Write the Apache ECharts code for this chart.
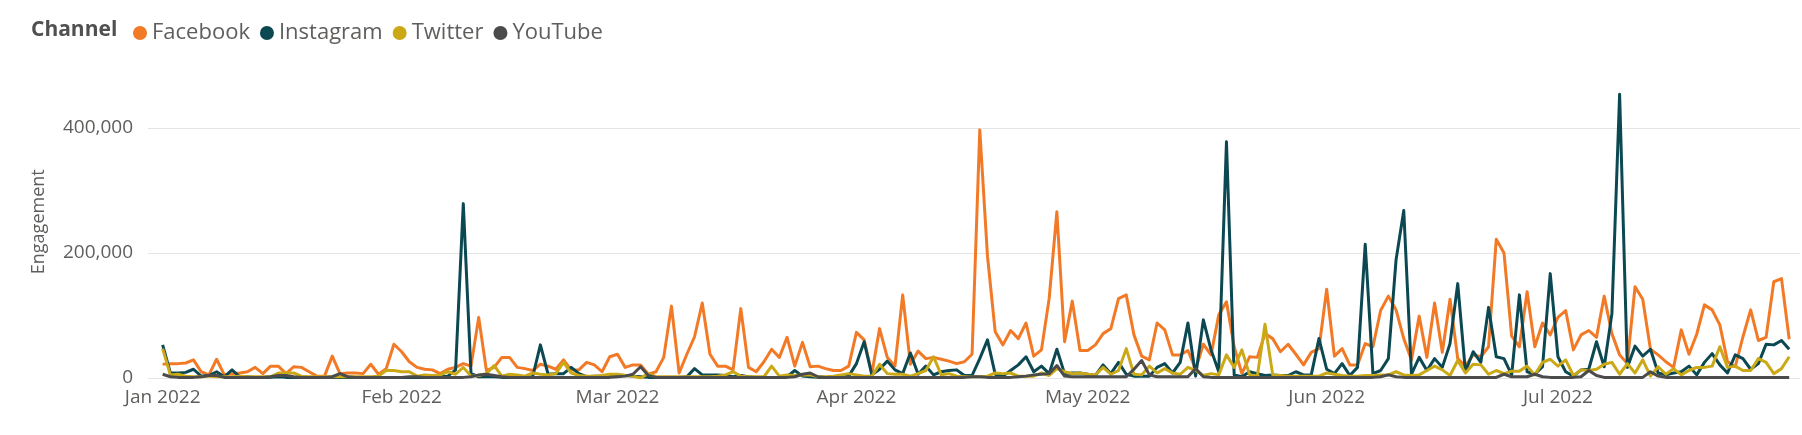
<!DOCTYPE html>
<html>
<head>
<meta charset="utf-8">
<script src="https://cdn.jsdelivr.net/npm/echarts@6/dist/echarts.min.js"></script>
<style>
html,body{margin:0;padding:0;background:#fff;}
#chart{width:1802px;height:435px;}
</style>
</head>
<body>
<div id="chart"></div>
<script>
// Day index 0 = 1 Jan 2022 ... 211 = 31 Jul 2022
const tickDays = [0, 31, 59, 90, 120, 151, 181];
const tickLabels = ['Jan 2022', 'Feb 2022', 'Mar 2022', 'Apr 2022', 'May 2022', 'Jun 2022', 'Jul 2022'];
const seriesNames = ['Facebook', 'Instagram', 'Twitter', 'YouTube'];

// Engagement values (thousands), one per day
const facebook = [22,23,23,24,29,10,5,30,5,7,8,10,17,7,19,19,7,18,17,10,3,3,35,7,8,8,7,22,6,15,
54,42,26,17,14,13,7,14,17,23,19,97,12,17,33,33,17,15,12,22,19,14,29,13,13,25,21,10,34,38,
17,21,21,6,10,33,115,8,38,66,120,38,19,19,13,111,17,10,26,46,33,65,19,57,18,19,15,12,12,19,
73,61,7,79,33,19,133,22,43,31,33,30,27,23,26,38,397,195,74,53,76,63,88,35,45,127,266,58,123,44,
44,53,71,79,127,133,69,35,29,88,77,37,37,44,14,54,37,101,122,50,7,34,33,71,63,42,54,38,21,41,
47,142,35,47,21,21,55,50,108,131,109,63,29,99,33,120,41,126,31,19,37,34,50,222,200,67,50,138,50,88,
69,97,108,45,69,76,65,131,71,37,23,146,126,46,37,26,17,77,38,70,117,109,85,26,18,66,109,60,65,154,
159,62];
const instagram = [53,8,8,9,14,3,4,10,2,13,2,2,1,1,1,2,1,1,1,1,1,1,1,1,1,1,1,1,1,1,
1,1,1,1,1,2,2,3,13,279,7,2,2,2,1,1,1,1,2,53,6,7,7,17,7,2,3,3,5,5,
4,3,2,1,1,1,1,1,2,15,5,5,5,4,2,4,2,1,1,1,1,2,12,3,2,1,1,1,1,3,
23,58,5,14,27,13,7,40,6,19,5,10,12,13,4,4,31,61,6,3,12,21,34,10,19,7,46,7,8,8,
6,4,21,7,25,6,3,3,3,17,23,8,25,88,3,93,45,10,378,5,2,10,7,4,5,4,4,10,5,5,
63,14,7,23,4,17,214,7,12,31,189,268,6,33,12,31,17,55,151,10,42,25,113,34,31,5,133,10,6,18,
167,34,10,3,13,14,58,18,103,454,17,51,35,46,8,5,8,10,19,5,25,39,21,8,37,31,14,23,54,53,
60,46];
const twitter = [47,5,6,3,2,2,3,2,2,2,3,2,2,2,2,8,8,8,3,2,2,2,2,2,2,2,2,2,3,12,
12,10,10,3,5,4,5,10,6,17,3,4,7,20,3,6,5,3,8,6,5,7,25,8,4,3,3,4,6,6,
4,3,0,7,2,2,2,2,2,2,2,2,3,5,10,3,2,2,2,19,3,5,4,5,5,2,2,3,5,7,
5,3,3,22,7,6,6,3,7,12,34,5,7,3,2,2,2,3,8,7,8,3,3,3,8,4,15,10,7,8,
6,5,17,6,12,47,6,5,19,8,15,8,6,17,12,4,7,5,37,17,45,5,3,86,5,4,3,3,3,3,
3,8,6,4,3,3,4,4,5,5,10,5,4,5,12,19,13,4,28,8,22,21,6,12,7,11,11,19,5,25,
30,19,29,4,13,12,14,22,25,6,23,8,29,3,18,6,15,5,12,17,17,19,50,17,19,12,12,31,25,7,
15,34];
const youtube = [6,2,1,1,1,2,4,4,1,1,1,1,1,1,2,4,4,2,1,1,1,1,2,7,2,1,1,1,1,1,
1,1,2,2,1,1,1,1,1,1,2,5,6,4,2,1,1,1,1,1,1,1,1,1,1,1,1,1,1,2,
3,6,18,4,1,1,1,1,1,1,1,1,1,1,1,1,1,1,1,1,1,1,2,6,8,2,1,1,1,1,
1,1,1,1,1,1,1,1,1,1,1,1,1,1,1,2,2,1,1,1,1,2,3,5,6,7,20,3,2,2,
2,2,2,2,2,2,14,28,5,2,2,2,2,2,15,2,1,1,1,1,1,1,1,1,1,1,1,1,1,1,
1,1,1,1,1,1,1,1,2,5,2,1,1,1,1,1,1,1,1,1,1,1,1,1,6,2,2,2,6,2,
1,1,1,1,2,12,4,1,1,1,1,1,1,10,3,1,1,1,1,1,1,1,1,1,1,1,1,1,1,1,
1,1];

const colors = ['#F27A26', '#0B4852', '#CBA916', '#4B4B4B'];
const textColor = '#605E5C';
const fontFamily = '"Open Sans", "Noto Sans", sans-serif';

function toPoints(arr) {
  return arr.map((v, i) => [i, v * 1000]);
}

const chart = echarts.init(document.getElementById('chart'), null, {renderer: 'canvas'});

const series = [facebook, instagram, twitter, youtube].map((arr, k) => ({
  name: seriesNames[k],
  type: 'line',
  data: toPoints(arr),
  showSymbol: false,
  symbol: 'circle',
  lineStyle: {width: 3, color: colors[k], join: 'round'},
  itemStyle: {color: colors[k]},
  animation: false
}));

chart.setOption({
  backgroundColor: '#ffffff',
  animation: false,
  title: {
    text: 'Channel',
    left: 26,
    top: 15,
    textStyle: {fontFamily: fontFamily, fontSize: 21, fontWeight: 'bold', color: '#505050'}
  },
  legend: {
    left: 128,
    top: 17,
    icon: 'circle',
    itemWidth: 14,
    itemHeight: 14,
    itemGap: 10,
    textStyle: {fontFamily: fontFamily, fontSize: 22, color: textColor},
    data: seriesNames
  },
  grid: {left: 148, right: 2, top: 65.5, bottom: 57},
  xAxis: {
    type: 'value',
    min: -1.9,
    max: 212.4,
    axisLine: {show: false},
    axisTick: {show: false},
    splitLine: {show: false},
    axisLabel: {
      customValues: tickDays,
      formatter: function (v) {
        const idx = tickDays.indexOf(Math.round(v));
        return idx >= 0 ? tickLabels[idx] : '';
      },
      fontFamily: fontFamily,
      fontSize: 19,
      color: textColor,
      margin: 10
    }
  },
  yAxis: {
    type: 'value',
    min: 0,
    max: 500000,
    interval: 200000,
    name: 'Engagement',
    nameLocation: 'middle',
    nameGap: 100,
    nameTextStyle: {fontFamily: fontFamily, fontSize: 18, color: textColor},
    axisLine: {show: false},
    axisTick: {show: false},
    axisLabel: {
      showMaxLabel: false,
      formatter: function (v) { return v.toLocaleString('en-US'); },
      fontFamily: fontFamily,
      fontSize: 19,
      color: textColor,
      margin: 15
    },
    splitLine: {show: true, showMaxLine: false, lineStyle: {color: '#E4E4E4', width: 1}}
  },
  series: series
});
</script>
</body>
</html>
